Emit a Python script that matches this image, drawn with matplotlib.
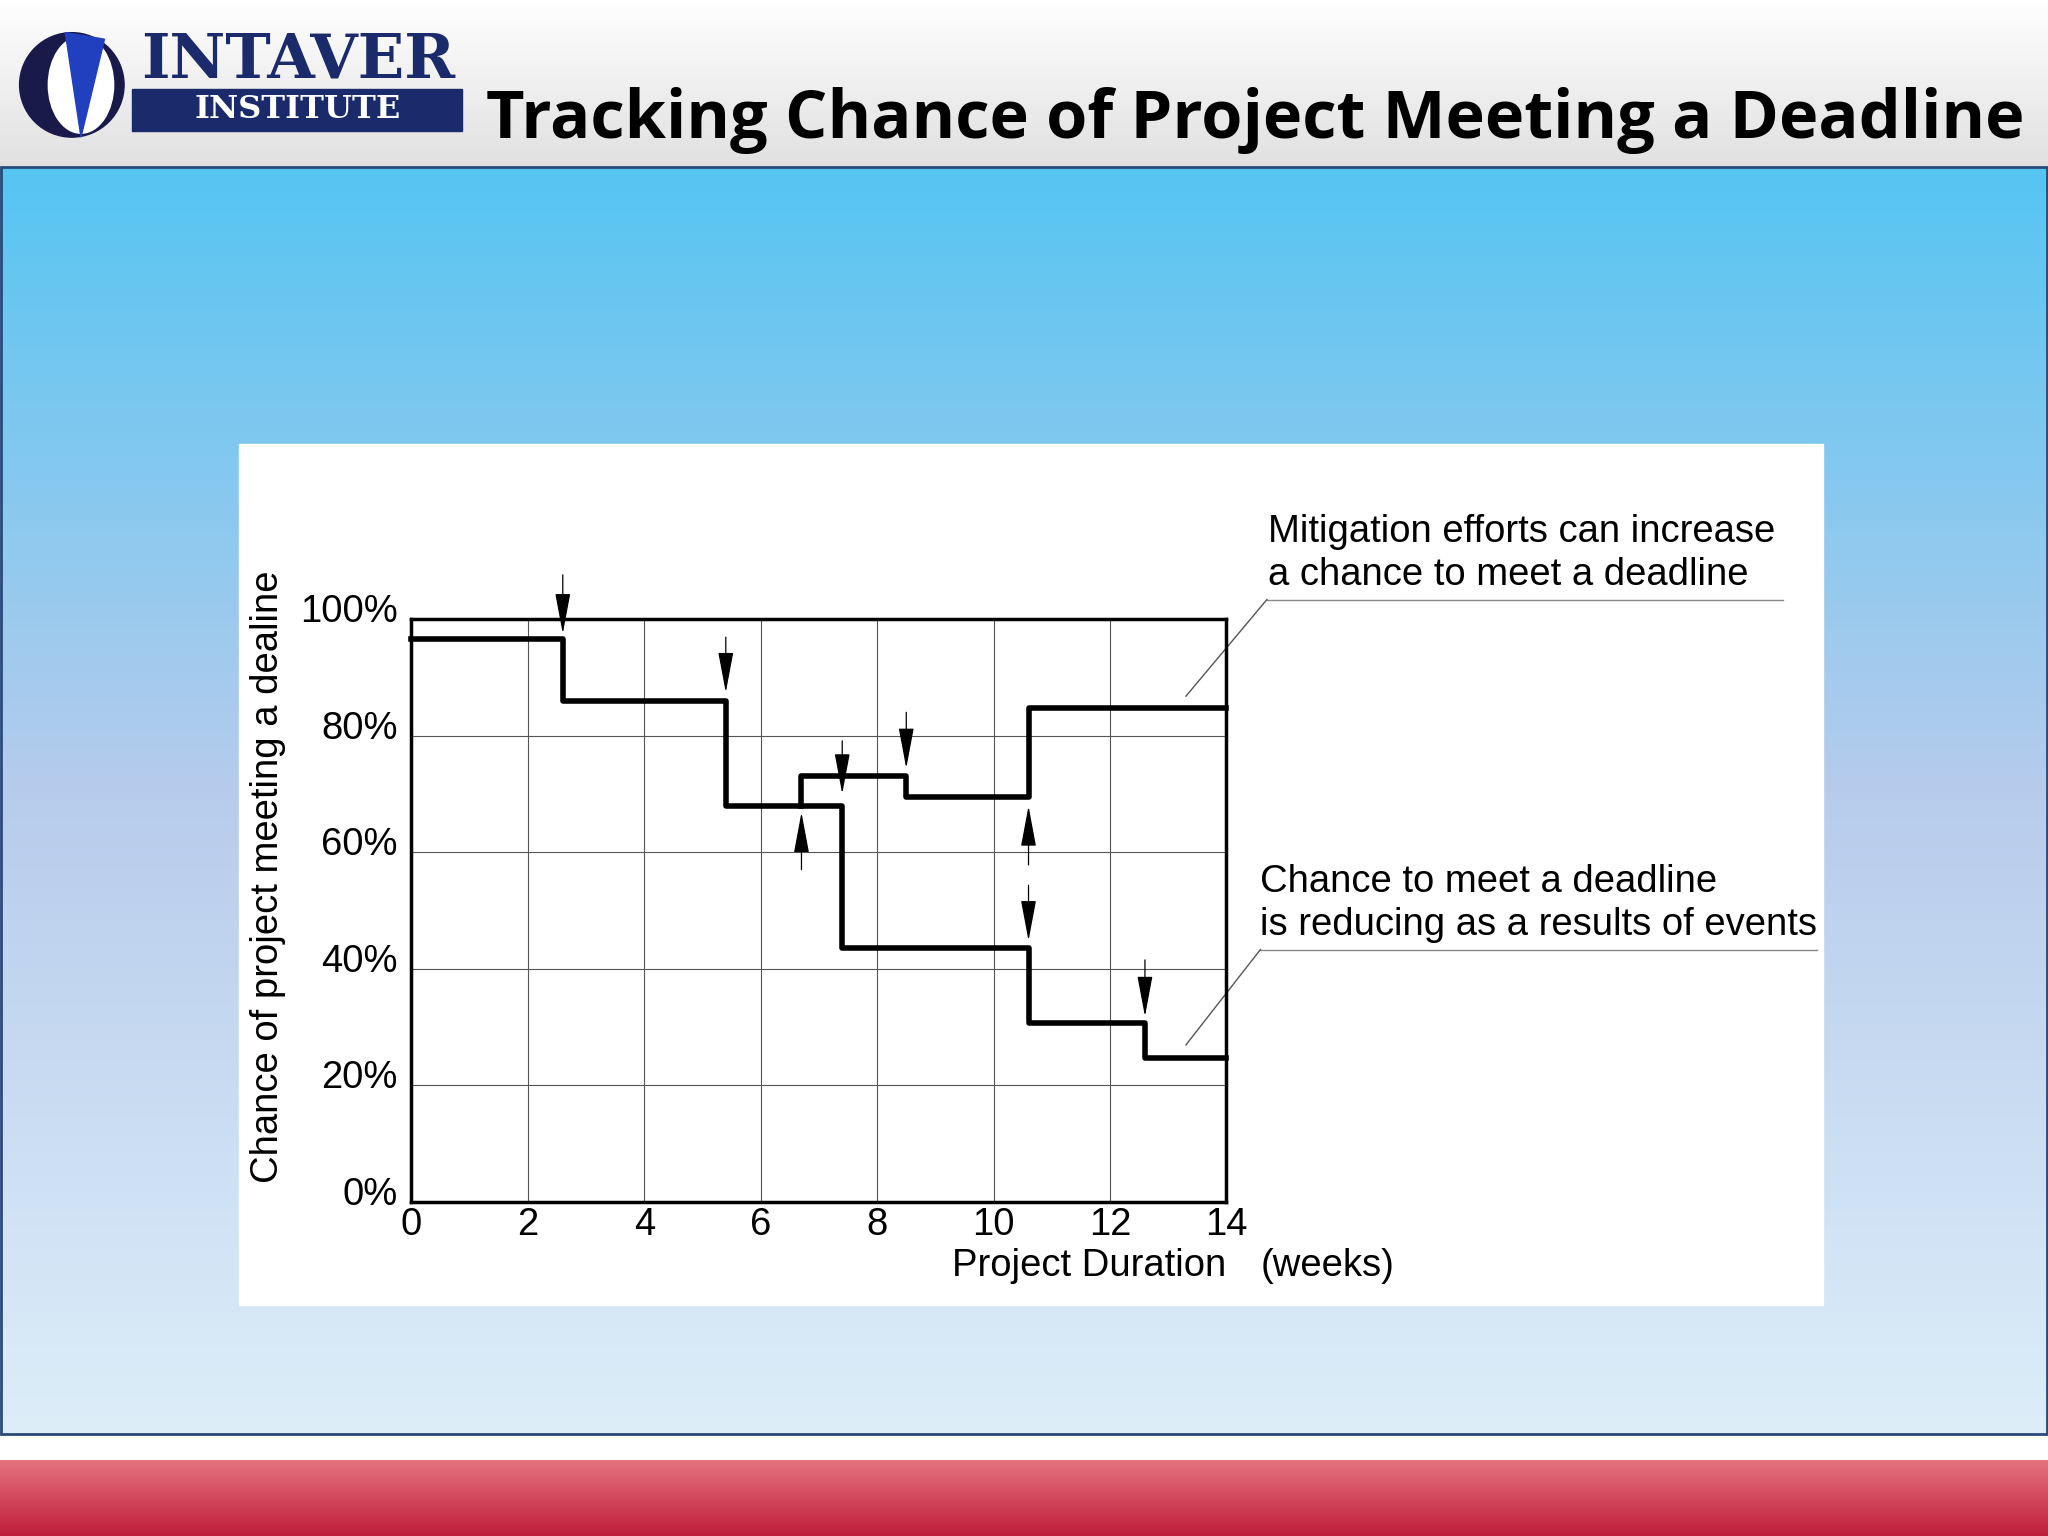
import numpy as np
import matplotlib
matplotlib.use("Agg")
import matplotlib.pyplot as plt
import matplotlib.transforms as mtransforms
from matplotlib.patches import Rectangle, Ellipse, Polygon

# Data
events_x = [0, 2.6, 5.4, 7.4, 10.6, 12.6, 14]
events_y = [96.5, 86, 68, 43.5, 30.7, 24.7, 24.7]
mitig_x = [6.7, 8.5, 10.6, 14]
mitig_y = [73, 69.5, 84.7, 84.7]
mitig_start_y = 68
down_arrows = [(2.6, 107.6, 97.5), (5.4, 96.9, 87.4), (7.4, 79.1, 70.0), (8.5, 84.0, 74.4),
               (10.6, 54.3, 44.8), (12.6, 41.5, 31.8)]
up_arrows = [(6.7, 57.0, 66.8), (10.6, 57.8, 67.9)]
xticks = [0, 2, 4, 6, 8, 10, 12, 14]
yticks = [0, 20, 40, 60, 80, 100]
ytick_labels = ["0%", "20%", "40%", "60%", "80%", "100%"]

W, H = 1568, 1176
FS = 27.5
fig = plt.figure(figsize=(20.48, 15.36), dpi=100)
bg = fig.add_axes([0, 0, 1, 1])
bg.set_xlim(0, W); bg.set_ylim(H, 0); bg.axis("off")

# header
grad = np.linspace(0, 1, 256)[:, None]
bg.imshow(np.dstack([np.interp(grad, [0, 1], [1.0, 0.88])] * 3), extent=[0, W, 128, 0], aspect="auto", zorder=0.5)
top = np.array([0x55, 0xC5, 0xF2]) / 255
mid = np.array([0xB8, 0xCC, 0xEC]) / 255
bot = np.array([0xDD, 0xEE, 0xF9]) / 255
t = np.linspace(0, 1, 512)
cols = np.array([np.interp(t, [0, 0.5, 1], [top[i], mid[i], bot[i]]) for i in range(3)]).T[:, None, :]
bg.imshow(cols, extent=[0, W, 1098, 128], aspect="auto", zorder=1)
bg.add_patch(Rectangle((1, 128), W - 2, 970, fill=False, ec="#2a4a7a", lw=2, zorder=2))
rt = np.linspace(0, 1, 128)
rc = np.array([np.interp(rt, [0, 1], a) for a in [(0.9, 0.75), (0.45, 0.12), (0.5, 0.22)]]).T[:, None, :]
bg.imshow(rc, extent=[0, W, H, 1118], aspect="auto", zorder=1)
bg.set_xlim(0, W); bg.set_ylim(H, 0)
bg.add_patch(Rectangle((183, 340), 1213, 659, color="white", zorder=3))

# logo
bg.add_patch(Ellipse((55, 65), 80, 80, color="#1a1a4a", zorder=4))
bg.add_patch(Ellipse((62, 65), 50, 74, color="white", zorder=5))
bg.add_patch(Polygon([[50, 25], [80, 30], [62, 105]], color="#2040c0", zorder=6))
bg.text(228, 46, "INTAVER", fontsize=44, fontweight="bold", color="#1a2a6a", ha="center", va="center",
        family="DejaVu Serif", zorder=6)
bg.add_patch(Rectangle((101, 68), 253, 32, color="#1a2a6a", zorder=6))
bg.text(228, 84, "INSTITUTE", fontsize=23, fontweight="bold", color="white", ha="center", va="center",
        family="DejaVu Serif", zorder=7)
bg.text(1550, 92, "Tracking Chance of Project Meeting a Deadline", fontsize=48, fontweight="bold",
        ha="right", va="center", family="Open Sans", zorder=7)

# annotations
tk = dict(fontsize=FS, family="Liberation Sans", zorder=7, va="center")
bg.text(971, 407, "Mitigation efforts can increase", **tk)
bg.text(971, 440, "a chance to meet a deadline", **tk)
bg.plot([970, 1365], [459, 459], color="#888", lw=1, zorder=7)
bg.plot([970, 908], [459, 533], color="#555", lw=1, zorder=7)
bg.text(965, 675, "Chance to meet a deadline", **tk)
bg.text(965, 708, "is reducing as a results of events", **tk)
bg.plot([965, 1391], [727, 727], color="#888", lw=1, zorder=7)
bg.plot([965, 908], [727, 800], color="#555", lw=1, zorder=7)
bg.text(729, 969, "Project Duration", **tk)
bg.text(965, 969, "(weeks)", **tk)
bg.text(205, 671, "Chance of project meeting a dealine", rotation=90, ha="center", **tk)

ax = fig.add_axes([315 / W, 1 - 920 / H, (939 - 315) / W, (920 - 474) / H])
ax.set_xlim(0, 14); ax.set_ylim(0, 100)
ax.patch.set_alpha(0)
ax.set_xticks(xticks); ax.set_yticks(yticks)
ax.set_yticklabels(ytick_labels)
ax.tick_params(length=0, labelsize=FS)
ax.tick_params(axis="x", pad=4)
ax.tick_params(axis="y", pad=10)
off = mtransforms.ScaledTranslation(0, 0.11, fig.dpi_scale_trans)
for lab in ax.get_yticklabels():
    lab.set_transform(lab.get_transform() + off)
for lab in ax.get_xticklabels() + ax.get_yticklabels():
    lab.set_family("Liberation Sans")
ax.grid(True, color="#555", lw=0.8)
for s in ax.spines.values():
    s.set_linewidth(2.5)

ax.step(events_x, events_y, where="post", color="black", lw=4, zorder=5, clip_on=False)
ax.step([mitig_x[0]] + mitig_x, [mitig_start_y] + mitig_y, where="post", color="black", lw=4, zorder=5,
        clip_on=False)
ap = dict(arrowstyle="-|>,head_length=1.6,head_width=0.3", mutation_scale=16, color="black", lw=0.9,
          shrinkA=0, shrinkB=0)
for x, y0, y1 in down_arrows + up_arrows:
    ax.annotate("", xy=(x, y1), xytext=(x, y0), arrowprops=ap, annotation_clip=False, zorder=6)

fig.savefig("out.png", dpi=100)
